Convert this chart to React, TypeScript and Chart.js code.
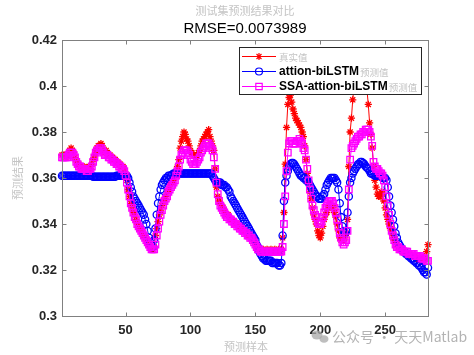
import React, { useEffect, useRef } from 'react';
import { Chart, registerables } from 'chart.js';
Chart.register(...registerables);

// ---------- data ----------
const trueVals = [
  0.370,0.370,0.370,0.369,0.370,0.371,0.372,0.373,0.372,0.371,
  0.369,0.367,0.366,0.366,0.365,0.364,0.364,0.365,0.364,0.363,
  0.364,0.365,0.364,0.366,0.368,0.370,0.372,0.373,0.374,0.374,
  0.375,0.374,0.372,0.371,0.372,0.371,0.370,0.370,0.369,0.369,
  0.368,0.368,0.367,0.367,0.366,0.366,0.365,0.365,0.364,0.362,
  0.359,0.355,0.352,0.349,0.347,0.345,0.344,0.342,0.340,0.339,
  0.338,0.337,0.336,0.335,0.334,0.333,0.332,0.331,0.330,0.329,
  0.329,0.330,0.335,0.338,0.341,0.344,0.346,0.348,0.350,0.351,
  0.352,0.354,0.355,0.357,0.358,0.358,0.359,0.361,0.363,0.365,
  0.368,0.373,0.376,0.378,0.380,0.379,0.377,0.376,0.374,0.372,
  0.371,0.370,0.370,0.369,0.370,0.371,0.372,0.374,0.376,0.377,
  0.378,0.379,0.380,0.381,0.378,0.376,0.374,0.372,0.364,0.356,
  0.352,0.350,0.349,0.348,0.347,0.346,0.345,0.344,0.344,0.343,
  0.342,0.342,0.341,0.341,0.340,0.340,0.339,0.339,0.338,0.338,
  0.337,0.337,0.336,0.336,0.335,0.335,0.334,0.334,0.333,0.332,
  0.331,0.330,0.329,0.328,0.328,0.329,0.328,0.328,0.329,0.328,
  0.328,0.329,0.328,0.328,0.329,0.328,0.328,0.329,0.328,0.329,
  0.334,0.345,0.366,0.382,0.392,0.395,0.396,0.393,0.390,0.388,
  0.386,0.385,0.384,0.383,0.382,0.380,0.378,0.374,0.368,0.362,
  0.358,0.354,0.351,0.347,0.344,0.342,0.340,0.337,0.335,0.334,
  0.336,0.339,0.342,0.344,0.345,0.347,0.348,0.349,0.348,0.347,
  0.345,0.343,0.340,0.337,0.334,0.333,0.333,0.333,0.334,0.336,
  0.342,0.365,0.380,0.386,0.394,0.400,0.405,0.408,0.410,0.411,
  0.412,0.413,0.412,0.410,0.405,0.398,0.392,0.384,0.379,0.373,
  0.365,0.359,0.356,0.353,0.352,0.352,0.354,0.353,0.350,0.347,
  0.344,0.342,0.340,0.338,0.336,0.334,0.333,0.332,0.331,0.330,
  0.329,0.329,0.328,0.328,0.328,0.327,0.327,0.327,0.327,0.326,
  0.326,0.326,0.326,0.325,0.325,0.325,0.325,0.324,0.324,0.324,
  0.325,0.328,0.331,
];

const attVals = [
  0.361,0.361,0.361,0.361,0.361,0.361,0.361,0.361,0.361,0.361,
  0.361,0.361,0.361,0.361,0.361,0.361,0.361,0.361,0.361,0.361,
  0.361,0.361,0.361,0.361,0.3605,0.3605,0.3605,0.3605,0.3605,0.3605,
  0.3605,0.3605,0.3605,0.3605,0.3605,0.3605,0.3605,0.3605,0.3605,0.3605,
  0.3605,0.3605,0.361,0.361,0.361,0.361,0.361,0.361,0.361,0.361,
  0.361,0.360,0.358,0.356,0.354,0.352,0.351,0.350,0.349,0.348,
  0.347,0.346,0.345,0.344,0.342,0.340,0.337,0.334,0.332,0.330,
  0.330,0.333,0.338,0.344,0.349,0.352,0.355,0.357,0.358,0.359,
  0.360,0.360,0.361,0.361,0.361,0.3615,0.362,0.362,0.362,0.362,
  0.362,0.362,0.362,0.362,0.362,0.362,0.362,0.362,0.362,0.362,
  0.362,0.362,0.362,0.362,0.362,0.362,0.362,0.362,0.362,0.362,
  0.362,0.362,0.362,0.362,0.362,0.362,0.361,0.360,0.359,0.358,
  0.358,0.358,0.358,0.357,0.357,0.357,0.356,0.356,0.355,0.354,
  0.352,0.351,0.350,0.349,0.348,0.347,0.346,0.345,0.344,0.343,
  0.342,0.341,0.340,0.339,0.338,0.337,0.336,0.335,0.334,0.333,
  0.331,0.330,0.328,0.327,0.326,0.325,0.325,0.324,0.324,0.324,
  0.324,0.324,0.323,0.323,0.323,0.323,0.323,0.322,0.322,0.323,
  0.335,0.350,0.358,0.361,0.363,0.365,0.366,0.3665,0.3665,0.366,
  0.365,0.364,0.363,0.362,0.361,0.361,0.360,0.360,0.359,0.359,
  0.358,0.357,0.356,0.355,0.354,0.353,0.352,0.352,0.351,0.351,
  0.351,0.352,0.353,0.355,0.357,0.358,0.359,0.360,0.360,0.360,
  0.360,0.359,0.358,0.355,0.349,0.343,0.339,0.337,0.336,0.337,
  0.345,0.352,0.358,0.360,0.362,0.363,0.364,0.365,0.366,0.366,
  0.367,0.367,0.3665,0.366,0.365,0.3645,0.364,0.363,0.362,0.362,
  0.3615,0.361,0.361,0.361,0.361,0.361,0.361,0.360,0.360,0.360,
  0.359,0.356,0.352,0.348,0.345,0.342,0.339,0.336,0.334,0.332,
  0.331,0.330,0.329,0.328,0.328,0.327,0.327,0.326,0.326,0.325,
  0.325,0.324,0.324,0.323,0.323,0.322,0.322,0.321,0.320,0.319,
  0.319,0.318,0.321,
];

const ssaVals = [
  0.369,0.369,0.369,0.369,0.369,0.370,0.371,0.371,0.371,0.370,
  0.369,0.367,0.366,0.365,0.365,0.364,0.364,0.364,0.364,0.363,
  0.363,0.364,0.364,0.365,0.367,0.369,0.371,0.372,0.372,0.373,
  0.373,0.372,0.371,0.370,0.370,0.370,0.369,0.369,0.368,0.368,
  0.367,0.367,0.366,0.366,0.365,0.365,0.364,0.364,0.363,0.361,
  0.358,0.355,0.352,0.349,0.347,0.345,0.343,0.342,0.340,0.339,
  0.338,0.337,0.336,0.335,0.334,0.333,0.332,0.331,0.330,0.329,
  0.329,0.329,0.331,0.335,0.338,0.341,0.344,0.346,0.348,0.350,
  0.351,0.352,0.354,0.355,0.356,0.357,0.358,0.359,0.361,0.363,
  0.365,0.368,0.370,0.371,0.372,0.372,0.372,0.371,0.370,0.368,
  0.367,0.366,0.366,0.366,0.367,0.368,0.369,0.371,0.372,0.373,
  0.374,0.375,0.375,0.375,0.374,0.373,0.372,0.369,0.364,0.358,
  0.353,0.350,0.348,0.347,0.346,0.345,0.344,0.343,0.343,0.342,
  0.342,0.341,0.341,0.340,0.340,0.339,0.339,0.338,0.338,0.337,
  0.337,0.336,0.336,0.335,0.335,0.334,0.334,0.333,0.332,0.331,
  0.330,0.329,0.329,0.328,0.328,0.328,0.328,0.328,0.328,0.328,
  0.328,0.328,0.328,0.328,0.328,0.328,0.328,0.328,0.328,0.328,
  0.330,0.340,0.352,0.363,0.371,0.375,0.376,0.376,0.375,0.375,
  0.375,0.376,0.376,0.377,0.376,0.375,0.373,0.372,0.368,0.364,
  0.359,0.355,0.351,0.348,0.346,0.344,0.343,0.341,0.340,0.340,
  0.341,0.343,0.345,0.347,0.348,0.349,0.350,0.350,0.350,0.349,
  0.347,0.345,0.342,0.339,0.336,0.334,0.332,0.331,0.332,0.333,
  0.337,0.355,0.368,0.373,0.374,0.375,0.376,0.377,0.378,0.378,
  0.379,0.379,0.380,0.380,0.381,0.381,0.381,0.380,0.378,0.374,
  0.367,0.365,0.364,0.364,0.363,0.362,0.362,0.361,0.359,0.356,
  0.352,0.348,0.344,0.340,0.337,0.335,0.333,0.331,0.330,0.330,
  0.329,0.329,0.329,0.328,0.328,0.328,0.328,0.327,0.327,0.327,
  0.327,0.327,0.326,0.326,0.326,0.326,0.326,0.325,0.325,0.325,
  0.325,0.324,0.324,
];

const xTicks = [50, 100, 150, 200, 250];
const yTicks = [0.3, 0.32, 0.34, 0.36, 0.38, 0.4, 0.42];
const titleCN = '测试集预测结果对比';
const titleRMSE = 'RMSE=0.0073989';
const seriesNames = ['真实值', 'attion-biLSTM预测值', 'SSA-attion-biLSTM预测值'];
const seriesColors = ['#ff0000', '#0000ff', '#ff00ff'];
const seriesMarkers = ['star', 'circle', 'rect'];
const xLabel = '预测样本';
const yLabel = '预测结果';
const watermark = '公众号 · 天天Matlab';

const LAT = "'Liberation Sans', Arial, sans-serif";
const CJK = "'Noto Sans CJK SC', sans-serif";

function drawMarker(ctx: CanvasRenderingContext2D, kind: string, x: number, y: number, color: string) {
  ctx.save();
  ctx.strokeStyle = color;
  ctx.lineWidth = 1.2;
  ctx.beginPath();
  if (kind === 'circle') {
    ctx.arc(x, y, 3.5, 0, Math.PI * 2);
  } else if (kind === 'rect') {
    ctx.rect(x - 3.2, y - 3.2, 6.4, 6.4);
  } else {
    const r = 3.5, d = r * Math.SQRT1_2;
    ctx.moveTo(x - r, y); ctx.lineTo(x + r, y);
    ctx.moveTo(x, y - r); ctx.lineTo(x, y + r);
    ctx.moveTo(x - d, y - d); ctx.lineTo(x + d, y + d);
    ctx.moveTo(x - d, y + d); ctx.lineTo(x + d, y - d);
  }
  ctx.stroke();
  ctx.restore();
}

const decorPlugin = {
  id: 'decor',
  afterDatasetsDraw(chart: any) {
    const { ctx, chartArea: a, scales } = chart;
    ctx.save();
    ctx.strokeStyle = '#808080';
    ctx.lineWidth = 1;
    const L = Math.round(a.left) + 0.5, R = Math.round(a.right) + 0.5;
    const T = Math.round(a.top) + 0.5, B = Math.round(a.bottom) + 0.5;
    ctx.strokeRect(L, T, R - L, B - T);
    ctx.beginPath();
    xTicks.forEach((t) => {
      const x = Math.round(scales.x.getPixelForValue(t)) + 0.5;
      ctx.moveTo(x, B); ctx.lineTo(x, B - 4);
      ctx.moveTo(x, T); ctx.lineTo(x, T + 4);
    });
    yTicks.forEach((t) => {
      const y = Math.round(scales.y.getPixelForValue(t)) + 0.5;
      ctx.moveTo(L, y); ctx.lineTo(L + 4, y);
      ctx.moveTo(R, y); ctx.lineTo(R - 4, y);
    });
    ctx.stroke();

    // legend
    const lx = 239.5, ly = 47.5, lw = 182, lh = 47;
    ctx.fillStyle = '#ffffff';
    ctx.fillRect(lx, ly, lw, lh);
    ctx.strokeStyle = '#262626';
    ctx.strokeRect(lx, ly, lw, lh);
    const rows = [56, 71, 86];
    seriesNames.forEach((name, i) => {
      const y = rows[i];
      const c = seriesColors[i];
      ctx.strokeStyle = c;
      ctx.lineWidth = 1;
      ctx.beginPath();
      ctx.moveTo(242, y + 0.5); ctx.lineTo(276, y + 0.5);
      ctx.stroke();
      drawMarker(ctx, seriesMarkers[i], 259, y + 0.5, c);
      const m = name.match(/^([\x00-\x7F]*)(.*)$/) as RegExpMatchArray;
      const lat = m[1], cn = m[2];
      ctx.textAlign = 'left';
      ctx.textBaseline = 'middle';
      let tx = 279;
      if (lat) {
        ctx.font = `bold 12px ${LAT}`;
        ctx.fillStyle = '#000000';
        ctx.fillText(lat, tx, y + 1);
        tx += ctx.measureText(lat).width + 1;
      }
      if (cn) {
        ctx.font = `9.5px ${CJK}`;
        ctx.fillStyle = '#c4c4c4';
        ctx.fillText(cn, tx, y + 1);
      }
    });
    ctx.restore();
  },
  afterDraw(chart: any) {
    const { ctx, chartArea: a } = chart;
    const cx = (a.left + a.right) / 2;
    ctx.save();
    ctx.textAlign = 'center';
    ctx.textBaseline = 'middle';
    ctx.font = `11px ${CJK}`;
    ctx.fillStyle = '#c4c4c4';
    ctx.fillText(titleCN, cx, 11);
    ctx.font = `15px ${LAT}`;
    ctx.fillStyle = '#000000';
    ctx.fillText(titleRMSE, cx, 29);
    ctx.font = `11px ${CJK}`;
    ctx.fillStyle = '#c4c4c4';
    ctx.fillText(xLabel, cx + 1, 347);
    ctx.save();
    ctx.translate(18, (a.top + a.bottom) / 2);
    ctx.rotate(-Math.PI / 2);
    ctx.fillText(yLabel, 0, 0);
    ctx.restore();
    // watermark
    ctx.globalAlpha = 0.75;
    ctx.fillStyle = '#a8a8a8';
    ctx.beginPath();
    ctx.ellipse(317, 335, 5.5, 4.5, 0, 0, Math.PI * 2);
    ctx.fill();
    ctx.beginPath();
    ctx.ellipse(324, 339, 4.5, 3.8, 0, 0, Math.PI * 2);
    ctx.fill();
    ctx.textAlign = 'left';
    ctx.font = `14px ${CJK}`;
    ctx.fillStyle = '#9a9a9a';
    ctx.fillText(watermark, 332, 337);
    ctx.restore();
  },
};

export default function App() {
  const ref = useRef<HTMLCanvasElement | null>(null);
  useEffect(() => {
    if (!ref.current) return;
    const mk = (arr: number[]) => arr.map((v, i) => ({ x: i + 1, y: v }));
    const series = [trueVals, attVals, ssaVals];
    const radii = [3.6, 3.6, 4.6];
    const orders = [3, 2, 1];
    const chart = new Chart(ref.current, {
      type: 'line',
      data: {
        datasets: series.map((arr, i) => ({
          label: seriesNames[i],
          data: mk(arr),
          borderColor: seriesColors[i],
          backgroundColor: 'rgba(0,0,0,0)',
          borderWidth: 1,
          pointStyle: seriesMarkers[i] as any,
          pointRadius: radii[i],
          pointBorderColor: seriesColors[i],
          pointBackgroundColor: 'rgba(0,0,0,0)',
          pointBorderWidth: 1.3,
          tension: 0,
          fill: false,
          clip: false as any,
          order: orders[i],
        })),
      },
      options: {
        responsive: false,
        animation: false,
        devicePixelRatio: 1,
        events: [],
        layout: { padding: { left: 0, right: 46, top: 40, bottom: 0 } },
        plugins: { legend: { display: false }, title: { display: false }, tooltip: { enabled: false } },
        scales: {
          x: {
            type: 'linear',
            min: 1,
            max: 283,
            grid: { display: false, drawTicks: false },
            border: { display: false },
            ticks: {
              font: { family: LAT, size: 13, weight: 'bold' },
              color: '#262626',
              padding: 7,
              maxRotation: 0,
              autoSkip: false,
            },
            afterBuildTicks: (s: any) => { s.ticks = xTicks.map((v) => ({ value: v })); },
            afterFit: (s: any) => { s.height = 39; },
          },
          y: {
            type: 'linear',
            min: 0.3,
            max: 0.42,
            grid: { display: false, drawTicks: false },
            border: { display: false },
            ticks: {
              font: { family: LAT, size: 13, weight: 'bold' },
              color: '#262626',
              padding: 5,
              callback: (v: any) => String(Number(Number(v).toFixed(2))),
            },
            afterBuildTicks: (s: any) => { s.ticks = yTicks.map((v) => ({ value: v })); },
            afterFit: (s: any) => { s.width = 62; },
          },
        },
      },
      plugins: [decorPlugin],
    } as any);
    return () => chart.destroy();
  }, []);
  return (
    <canvas
      ref={ref}
      width={474}
      height={355}
      style={{ position: 'fixed', left: 0, top: 0, width: 474, height: 355 }}
    />
  );
}
